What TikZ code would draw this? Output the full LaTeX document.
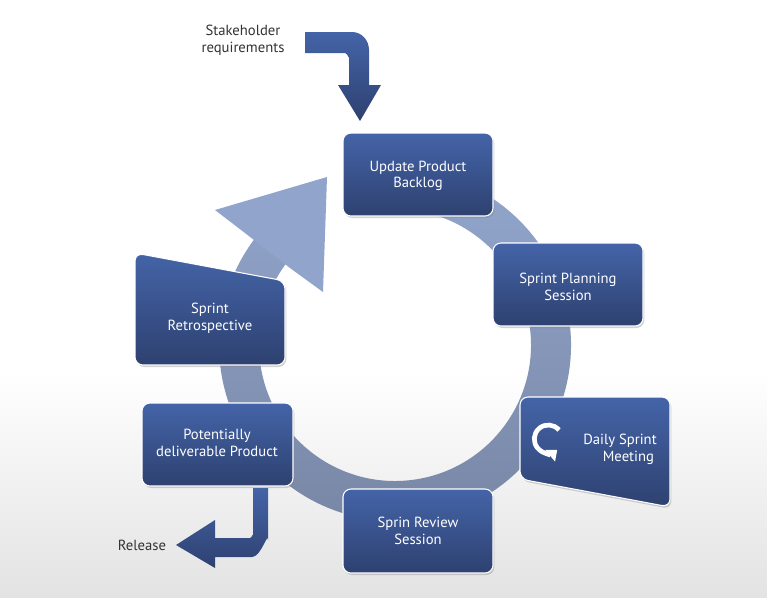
\documentclass[tikz,border=0pt]{standalone}
\usepackage{fontspec}
\setmainfont{PT Sans}
\usetikzlibrary{arrows.meta,shadows}
\definecolor{bxtop}{HTML}{4464A8}
\definecolor{bxbot}{HTML}{2E4170}
\definecolor{ringtop}{HTML}{93A7CE}
\definecolor{ringbot}{HTML}{7886A4}
\definecolor{txt}{HTML}{333333}
\begin{document}
\begin{tikzpicture}[x=0.75pt,y=-0.75pt,
  box/.style={top color=bxtop,bottom color=bxbot,draw=white,line width=0.8pt,rounded corners=6pt,
     drop shadow={shadow xshift=1pt,shadow yshift=-1.5pt,opacity=0.35}},
  lbl/.style={text=white,font=\fontsize{11}{12.5}\selectfont,align=center,inner sep=0},
  dark/.style={text=txt,font=\fontsize{11}{12.5}\selectfont,align=center,inner sep=0},
  arr/.style={top color=bxtop,bottom color=bxbot,draw=none}]
% background
\fill[white] (0,0) rectangle (767,597);
\shade[top color=white,bottom color=black!11] (0,370) rectangle (767,597);
\useasboundingbox (0,0) rectangle (767,597);
% ring
\begin{scope}[shift={(395,345)},x=0.75pt,y=0.75pt]
\shade[top color=ringtop,bottom color=ringbot]
  (100:176) arc[start angle=100,end angle=-217,radius=176]
  -- (-217:136) arc[start angle=-217,end angle=100,radius=136] -- cycle;
\end{scope}
\fill[ringtop!92!ringbot] (245,233) -- (215,210) -- (327,177) -- (323,292) -- (290,268) -- cycle;
% stakeholder arrow
\shade[arr] (305,32) -- (352,32) to[out=0,in=90] (369,50) -- (369,85) -- (381,85) -- (360,121)
  -- (338,85) -- (349,85) -- (349,57) to[out=-90,in=0] (345,53) -- (305,53) -- cycle;
% release arrow
\shade[arr] (268,488) -- (268,540) to[out=90,in=0] (252,557) -- (215,557) -- (215,568) -- (176,545)
  -- (215,520) -- (215,538) -- (250,538) to[out=0,in=90] (253,535) -- (253,488) -- cycle;
% boxes
\path[box] (343,133) rectangle (493,216);
\node[lbl] (upd) at (418,176) {Update Product\\Backlog};
\path[box] (493,243) rectangle (643,326);
\node[lbl] (plan) at (568,287) {Sprint Planning\\Session};
\path[box] (520,397) -- (670,397) -- (670,507) -- (520,479) -- cycle;
\node[lbl] (daily) at (620,449) {Daily Sprint\\\hphantom{Da}Meeting};
\path[box] (343,489) rectangle (493,573);
\node[lbl] (rev) at (418,531) {Sprin Review\\Session};
\path[box] (142,403) rectangle (293,486);
\node[lbl] (pot) at (217,443) {Potentially\\deliverable Product};
\path[box] (135,253) -- (285,281) -- (285,365) -- (135,365) -- cycle;
\node[lbl] (retro) at (210,318) {Sprint\\Retrospective};
% icon
\draw[white,line width=3.5pt,-{Triangle[length=7pt,width=11pt]}]
  (559,430) arc[start angle=-40,end angle=-310,radius=14];
% labels
\node[dark] (stake) at (243,40) {Stakeholder\\requirements};
\node[dark] (rel) at (142,545) {Release};
\end{tikzpicture}
\end{document}
